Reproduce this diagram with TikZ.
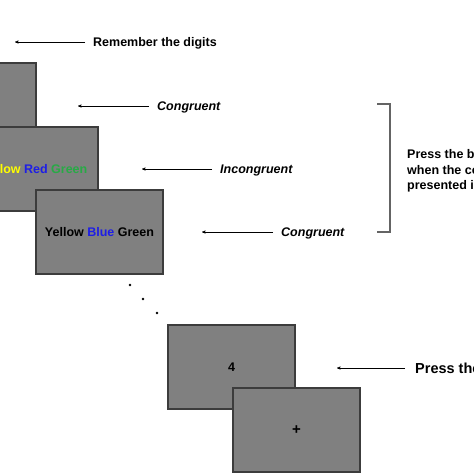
\documentclass[tikz,border=0pt]{standalone}
\usepackage{fontspec}
\setmainfont{Liberation Sans}
\usepackage{xcolor}
\usetikzlibrary{arrows}

\definecolor{boxGray}{RGB}{128,128,128}
\definecolor{edgeGray}{RGB}{60,60,60}
\definecolor{brGray}{RGB}{100,100,100}
\definecolor{wordBlue}{RGB}{30,30,230}
\definecolor{wordGreen}{RGB}{40,170,70}
\definecolor{wordYellow}{RGB}{255,255,0}

\begin{document}
\begin{tikzpicture}
[
x=1pt, y=-1pt,
screen/.style={
	rectangle,
	draw=edgeGray,
	line width=1.2pt,
	fill=boxGray,
	minimum width=127pt,
	minimum height=84pt,
	font=\fontsize{12.5}{15}\selectfont\bfseries},
lbl/.style={
	anchor=west,
	inner sep=0pt,
	text height=9pt,
	text depth=0pt,
	font=\fontsize{12.5}{15}\selectfont\bfseries},
cond/.style={
	lbl,
	font=\fontsize{12.5}{15}\selectfont\bfseries\itshape},
regArr/.style={
	->,
	>=stealth',
	thin,
	shorten <=8pt}
]
\useasboundingbox (0,0) rectangle (474,474);
\fill[white] (0,0) rectangle (474,474);
\clip (0,0) rectangle (474,474);

%screens, back to front
\node[screen] (s1) at (-27.5,105) {};
\node[screen] (s2) at (34.5,169) {\textcolor{wordYellow}{Yellow} \textcolor{wordBlue}{Red} \textcolor{wordGreen}{Green}};
\node[screen] (s3) at (99.5,232) {Yellow \textcolor{wordBlue}{Blue} Green};
\node[screen] (s4) at (231.5,367) {4};
\node[screen, font=\fontsize{15}{15}\selectfont\bfseries] (s5) at (296.5,430) {+};

%dots between the screens
\foreach \p in {(130,285),(143,299),(157,313)}
	\fill \p circle (1.3pt);

%labels
\node[lbl] (rem) at (93,42) {Remember the digits};
\node[cond] (c1) at (157,106) {Congruent};
\node[cond] (inc) at (220,169) {Incongruent};
\node[cond] (c2) at (281,232) {Congruent};
\node[anchor=west, inner sep=0pt, align=left, font=\fontsize{12.5}{15.5}\selectfont\bfseries] (pressB) at (407,171) {Press the b\\when the co\\presented i};
\node[lbl, text height=10.5pt, font=\fontsize{14.5}{16}\selectfont\bfseries] (pressD) at (415,368) {Press the};

%arrow tips
\coordinate (remTip) at (15,42);
\coordinate (c1Tip) at (78,106);
\coordinate (incTip) at (142,169);
\coordinate (c2Tip) at (202,232);
\coordinate (pressTip) at (337,368);

\draw [regArr] (rem.west) -- (remTip);
\draw [regArr] (c1.west) -- (c1Tip);
\draw [regArr] (inc.west) -- (incTip);
\draw [regArr] (c2.west) -- (c2Tip);
\draw [regArr, shorten <=10pt] (pressD.west) -- (pressTip);

%bracket over the three trials
\coordinate (brTop) at (377,104);
\coordinate (brBot) at (377,232);
\draw [brGray, line width=1.2pt] (brTop) -- ++(13,0) |- (brBot);

\end{tikzpicture}
\end{document}
